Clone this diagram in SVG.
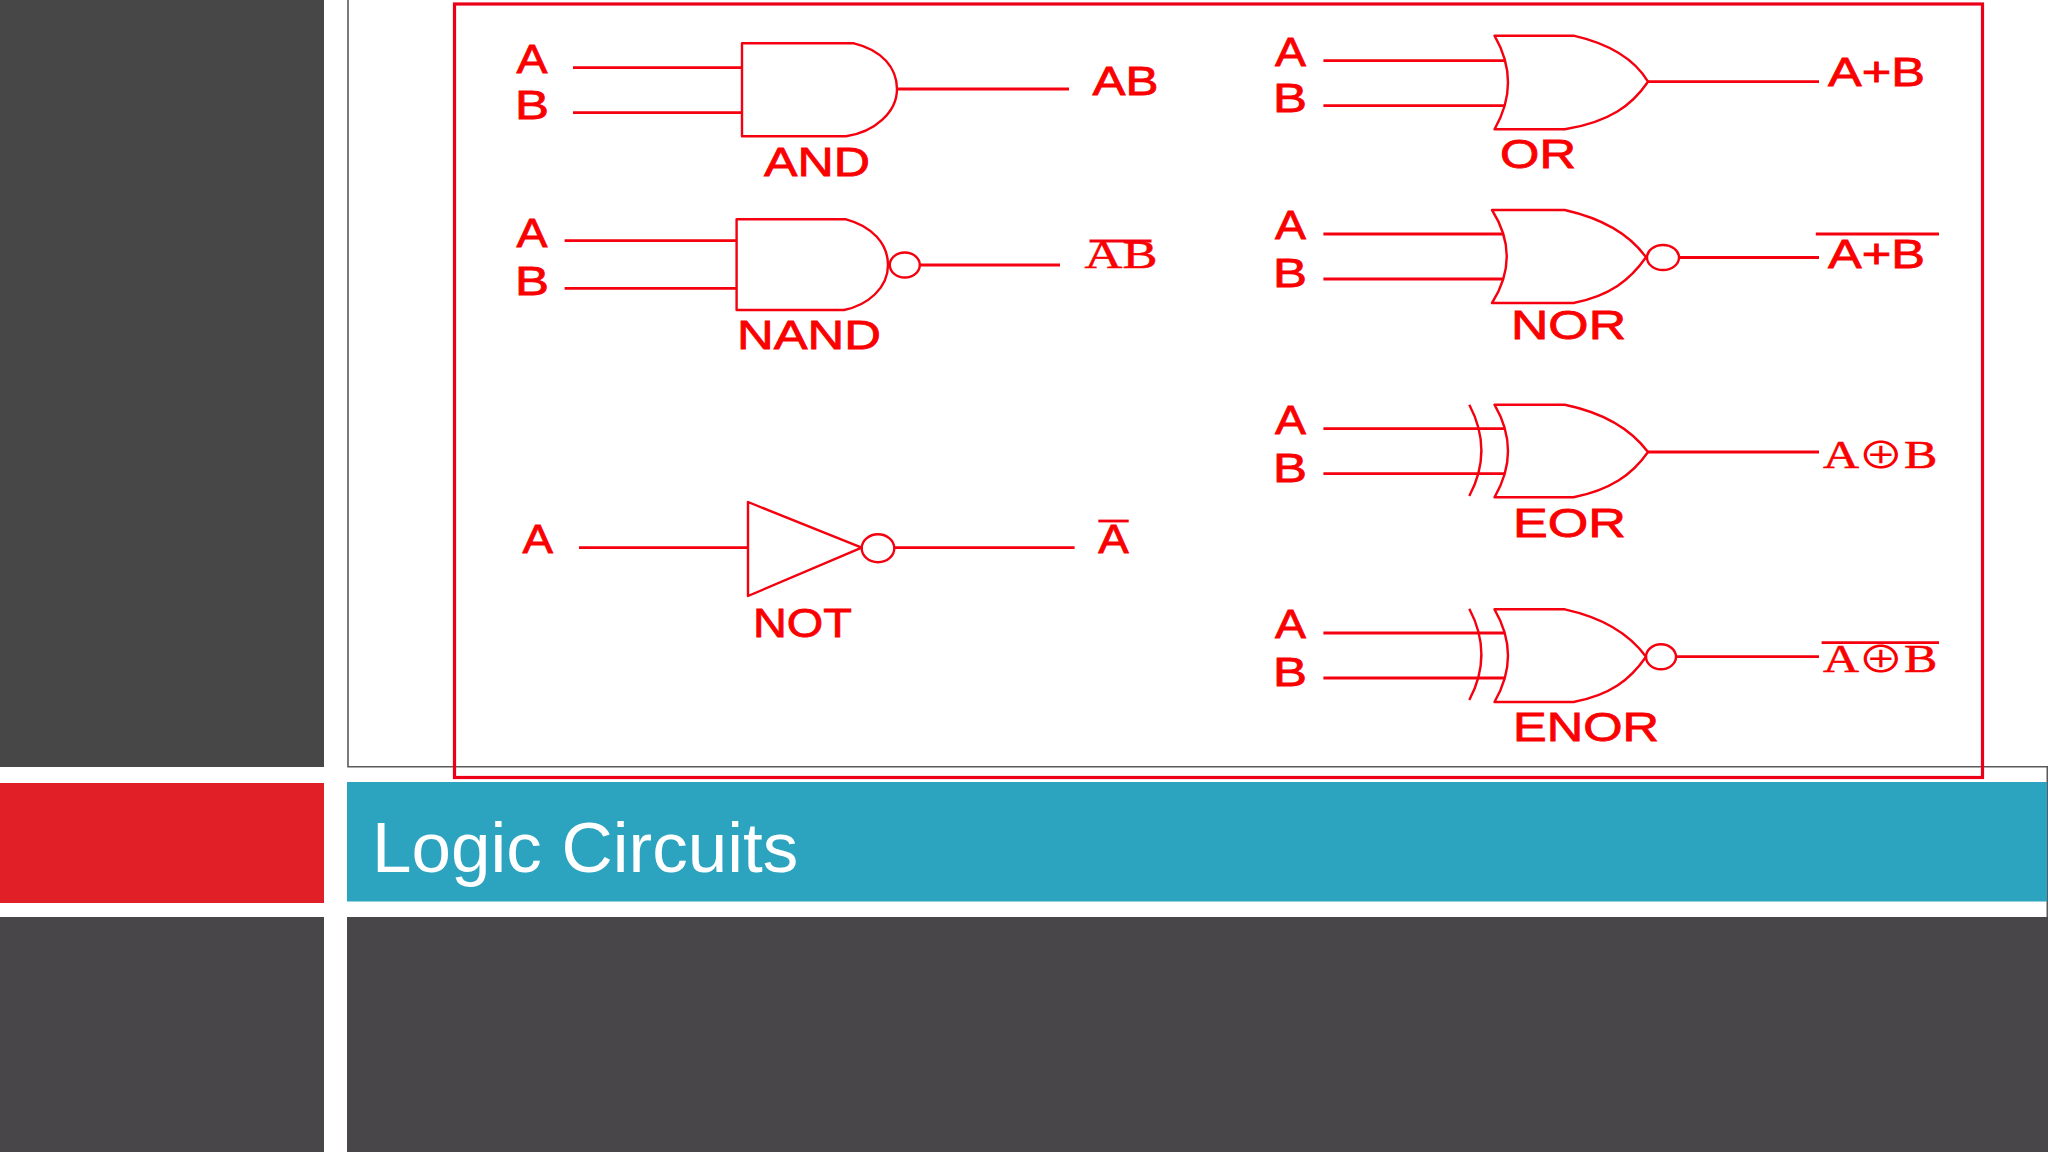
<svg xmlns="http://www.w3.org/2000/svg" width="2048" height="1152" viewBox="0 0 2048 1152">
<style>
.dark{fill:#474747}
.dark2{fill:#484649}
.g{fill:none;stroke:#f5000f;stroke-width:2.4;stroke-linejoin:round}
.w{fill:none;stroke:#f5000f;stroke-width:2.8}
.t{font-family:"Liberation Sans",Arial,sans-serif;font-size:41px;fill:#fa0000;stroke:#fa0000;stroke-width:.8}
.s{font-family:"Liberation Serif","DejaVu Serif",serif;font-size:41px;fill:#fa0000;stroke:#fa0000;stroke-width:.5}
.x{font-family:"Liberation Serif","DejaVu Sans",serif;font-size:40px;fill:#fa0000;stroke:#fa0000;stroke-width:.5}
.o{font-family:"Noto Sans CJK SC","DejaVu Sans",sans-serif;font-size:37px;stroke-width:0}
</style>
<rect width="2048" height="1152" fill="#fff"/>
<g id="slide">
<rect class="dark" x="0" y="0" width="324" height="767"/>
<rect x="0" y="783" width="324" height="120" fill="#e11f27"/>
<rect class="dark2" x="0" y="917" width="324" height="235"/>
<path d="M348 0V766.7H2047.3V917" fill="none" stroke="#5a5a5a" stroke-width="1.6"/>
<rect x="347" y="782" width="1700" height="119.500" fill="#2ca3bf"/>
<rect class="dark2" x="347" y="917" width="1701" height="235"/>
<text x="372" y="872" font-family="'Liberation Sans',Arial,sans-serif" font-size="71" fill="#fff">Logic Circuits</text>
<rect x="454.500" y="4" width="1528" height="773.500" fill="none" stroke="#ec0018" stroke-width="3.200"/>
</g>
<g id="connectors">
<path class="w" d="M573 67.700H742M573 112.700H742M897 89H1069"/>
<path class="w" d="M564.600 240.700H736.600M564.600 288.300H736.600M920 265H1060"/>
<path class="w" d="M579 547.700H748M894 547.700H1074.600"/>
<path class="w" d="M1323.400 60.700H1504M1323.400 105.700H1504M1648 81.700H1819"/>
<path class="w" d="M1323.400 234H1504M1323.400 279H1504M1679 257.500H1819"/>
<path class="w" d="M1323.400 428.700H1504M1323.400 473.700H1504M1648 452H1819"/>
<path class="w" d="M1323.400 633H1504M1323.400 678H1504M1676 656.700H1819"/>
</g>
<g id="and">
<path class="g" d="M854 43.300H742V136.300H846C875 132 897 112 897 89C897 68 882 50 854 43.300Z"/>
<text class="t" x="516.500" y="73" textLength="31" lengthAdjust="spacingAndGlyphs">A</text>
<text class="t" x="515" y="118.500" textLength="34" lengthAdjust="spacingAndGlyphs">B</text>
<text class="t" x="764" y="175.500" textLength="106" lengthAdjust="spacingAndGlyphs">AND</text>
<text class="t" x="1092.500" y="95" textLength="66" lengthAdjust="spacingAndGlyphs">AB</text>
</g>
<g id="nand">
<path class="g" d="M846 219.300H736.600V310H844C868 305 888 288 888 265C888 244 872 226 846 219.300Z"/>
<ellipse class="g" cx="904.800" cy="265" rx="15" ry="12.500" fill="#fff"/>
<text class="t" x="516.500" y="247" textLength="31" lengthAdjust="spacingAndGlyphs">A</text>
<text class="t" x="515" y="295" textLength="34" lengthAdjust="spacingAndGlyphs">B</text>
<text class="t" x="737" y="349" textLength="144" lengthAdjust="spacingAndGlyphs">NAND</text>
<text class="s" x="1084.500" y="267.500" textLength="73" lengthAdjust="spacingAndGlyphs">AB</text>
<path class="w" d="M1089.500 241H1151.500"/>
</g>
<g id="not">
<path class="g" d="M748 502V596L861.700 547.700Z"/>
<ellipse class="g" cx="878" cy="548.300" rx="16.300" ry="14"/>
<text class="t" x="522.500" y="553" textLength="30.500" lengthAdjust="spacingAndGlyphs">A</text>
<text class="t" x="753" y="636.500" textLength="99" lengthAdjust="spacingAndGlyphs">NOT</text>
<text class="t" x="1098.300" y="553" textLength="30.500" lengthAdjust="spacingAndGlyphs">A</text>
<path class="w" d="M1098.300 521H1128.700"/>
</g>
<g id="or">
<path class="g" d="M1494.500 35.700H1573.500C1610 44 1635 60 1648 81.700C1632 105 1610 122 1564.800 129.300H1494.500Q1521.500 82.500 1494.500 35.700Z"/>
<text class="t" x="1275" y="66" textLength="31" lengthAdjust="spacingAndGlyphs">A</text>
<text class="t" x="1273" y="111.500" textLength="34" lengthAdjust="spacingAndGlyphs">B</text>
<text class="t" x="1500" y="168" textLength="76" lengthAdjust="spacingAndGlyphs">OR</text>
<text class="t" x="1828" y="85.500" textLength="97" lengthAdjust="spacingAndGlyphs">A+B</text>
</g>
<g id="nor">
<path class="g" d="M1492 210H1564.800C1600 218 1628 232 1646 257.300C1630 280 1610 296 1573.500 303H1492Q1521.500 256.500 1492 210Z"/>
<ellipse class="g" cx="1663" cy="257.500" rx="16" ry="12.500"/>
<text class="t" x="1275" y="239" textLength="31" lengthAdjust="spacingAndGlyphs">A</text>
<text class="t" x="1273" y="286.500" textLength="34" lengthAdjust="spacingAndGlyphs">B</text>
<text class="t" x="1511" y="339" textLength="115" lengthAdjust="spacingAndGlyphs">NOR</text>
<text class="t" x="1828" y="268" textLength="97" lengthAdjust="spacingAndGlyphs">A+B</text>
<path class="w" d="M1815.800 234H1939"/>
</g>
<g id="eor">
<path class="g" d="M1494.500 404.700H1564.800C1600 412 1630 428 1648 452C1632 475 1610 490 1573.500 497.300H1494.500Q1521.500 451 1494.500 404.700Z"/>
<path class="g" d="M1469.300 404.700Q1493.500 450.500 1469.300 496"/>
<text class="t" x="1275" y="434" textLength="31" lengthAdjust="spacingAndGlyphs">A</text>
<text class="t" x="1273" y="481.500" textLength="34" lengthAdjust="spacingAndGlyphs">B</text>
<text class="t" x="1513" y="536.500" textLength="113" lengthAdjust="spacingAndGlyphs">EOR</text>
<text class="x" transform="scale(1.25 1)" x="1458.400" y="468">A<tspan class="o" dx="-1" dy="1">⊕</tspan><tspan dy="-1">B</tspan></text>
</g>
<g id="enor">
<path class="g" d="M1494.500 609.300H1564.800C1600 617 1628 632 1646 656.700C1630 680 1610 695 1573.500 702H1494.500Q1521.500 655.500 1494.500 609.300Z"/>
<path class="g" d="M1469.300 608.700Q1493.500 654.500 1469.300 700"/>
<ellipse class="g" cx="1661" cy="656.800" rx="15" ry="12.500"/>
<text class="t" x="1275" y="638" textLength="31" lengthAdjust="spacingAndGlyphs">A</text>
<text class="t" x="1273" y="686" textLength="34" lengthAdjust="spacingAndGlyphs">B</text>
<text class="t" x="1513" y="740.500" textLength="146" lengthAdjust="spacingAndGlyphs">ENOR</text>
<text class="x" transform="scale(1.25 1)" x="1458.400" y="672.500">A<tspan class="o" dx="-1" dy="1">⊕</tspan><tspan dy="-1">B</tspan></text>
<path class="w" d="M1821.600 642.700H1939"/>
</g>
</svg>
